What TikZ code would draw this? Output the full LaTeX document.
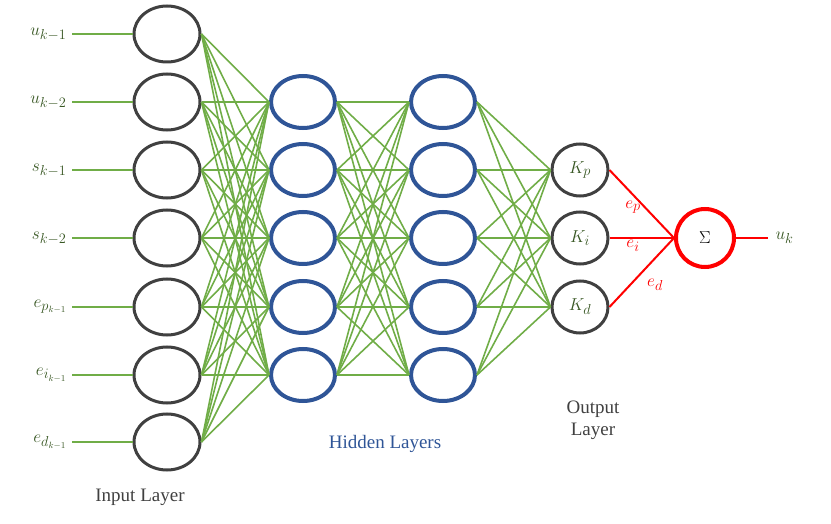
\documentclass[tikz,border=0pt]{standalone}
\usepackage{fontspec}
\setmainfont{Liberation Serif}
\usetikzlibrary{shapes.geometric}
\begin{document}
\definecolor{lg}{RGB}{112,173,71}
\definecolor{dg}{RGB}{64,64,64}
\definecolor{bl}{RGB}{47,85,151}
\definecolor{tg}{RGB}{56,87,35}
\begin{tikzpicture}[x=1pt,y=-1pt,
  inn/.style={ellipse,draw=dg,line width=3pt,minimum width=66pt,minimum height=56pt,inner sep=0pt},
  hid/.style={ellipse,draw=bl,line width=4pt,minimum width=64pt,minimum height=52pt,inner sep=0pt},
  outn/.style={ellipse,draw=dg,line width=3pt,minimum width=56pt,minimum height=52pt,inner sep=0pt,text=tg},
  con/.style={draw=lg,line width=1.6pt},
  rc/.style={draw=red,line width=2pt},
  lab/.style={text=tg,font=\fontsize{19}{22}\selectfont},
  every node/.append style={font=\fontsize{19}{22}\selectfont}]
\useasboundingbox (0,0) rectangle (831,524);
\foreach \i/\y in {1/34,2/102,3/170,4/238,5/307,6/375,7/442}
  \node[inn] (i\i) at (167,\y) {};
\foreach \i/\y in {1/102,2/170,3/238,4/307,5/375}{
  \node[hid] (a\i) at (303,\y) {};
  \node[hid] (b\i) at (443,\y) {};}
\node[outn] (o1) at (580,170) {$K_p$};
\node[outn] (o2) at (580,238) {$K_i$};
\node[outn] (o3) at (580,307) {$K_d$};
\node[circle,draw=red,line width=4pt,minimum size=58pt,inner sep=0pt] (s) at (705,238) {$\Sigma$};
\foreach \i in {1,...,7}\foreach \j in {1,...,5} \draw[con] (i\i.east) -- (a\j.west);
\foreach \i in {1,...,5}\foreach \j in {1,...,5} \draw[con] (a\i.east) -- (b\j.west);
\foreach \i in {1,...,5}\foreach \j in {1,...,3} \draw[con] (b\i.east) -- (o\j.west);
\foreach \i/\t/\y in {1/u_{k-1}/34,2/u_{k-2}/102,3/s_{k-1}/170,4/s_{k-2}/238,5/e_{p_{k-1}}/307,6/e_{i_{k-1}}/375,7/e_{d_{k-1}}/442}{
  \coordinate (c\i) at (72,\y);
  \draw[con] (c\i) -- (i\i.west);
  \node[lab,anchor=east] at (70,\y) {$\t$};}
\foreach \j in {1,2,3} \draw[rc] (o\j.east) -- (s.west);
\node[text=red] at (633,207) {$e_p$};
\node[text=red] at (633,246) {$e_i$};
\node[text=red] at (655,285) {$e_d$};
\coordinate (u) at (768,238);
\draw[rc] (s.east) -- (u);
\node[lab,anchor=west] at (772,238) {$u_k$};
\node[text=dg] at (140,497) {Input Layer};
\node[text=bl] at (385,444) {Hidden Layers};
\node[text=dg,align=center] at (593,420) {Output\\Layer};
\end{tikzpicture}
\end{document}
